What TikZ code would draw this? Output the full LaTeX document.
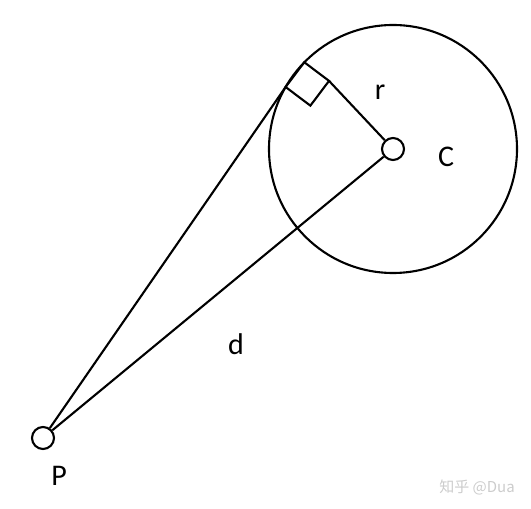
\documentclass[tikz,border=0pt]{standalone}
\usepackage{fontspec}
\setmainfont{Carlito}
\newfontfamily\cjkfont{Noto Sans CJK SC}
\usetikzlibrary{calc}
\newcommand{\radiusbig}{124}
\newcommand{\sidebox}{31}
\tikzset{
    common/.style={line width=2.1pt},
    dot/.style={common, draw, circle, fill=white, minimum size=22pt, inner sep=0pt},
    ring/.style={common, draw, circle, minimum size=2*\radiusbig pt, inner sep=0pt},
    labeltext/.style={font=\fontsize{30}{36}\selectfont, inner sep=0pt},
    watermark/.style={font=\cjkfont\fontsize{15}{18}\selectfont, text=black!20, inner sep=0pt}
}
\begin{document}
\begin{tikzpicture}[x=1pt, y=1pt]
    \useasboundingbox (0,0) rectangle (531,509);

    \node[ring] (circ) at (393,360) {};
    \node[dot] (C) at (393,360) {};
    \node[dot] (P) at (43,71) {};
    \coordinate (T) at ($(C)+(150:\radiusbig)$);
    \coordinate (Ttop) at ($(T)+(53:\sidebox)$);
    \coordinate (Tbot) at ($(T)+(-37:\sidebox)$);
    \coordinate (Tfar) at ($(Ttop)+(-37:\sidebox)$);

    \draw[common] (P) -- (T);
    \draw[common] (P) -- (C);
    \draw[common] (C) -- (Tfar);
    \draw[common] (T) -- (Ttop) -- (Tfar) -- (Tbot) -- cycle;

    \node[labeltext] (rlabel) at (380,417) {r};
    \node[labeltext] (clabel) at (446,352) {C};
    \node[labeltext] (dlabel) at (236,165) {d};
    \node[labeltext] (plabel) at (59,33) {P};
    \node[watermark] (mark) at (477,22) {知乎 @Dua};
\end{tikzpicture}
\end{document}
